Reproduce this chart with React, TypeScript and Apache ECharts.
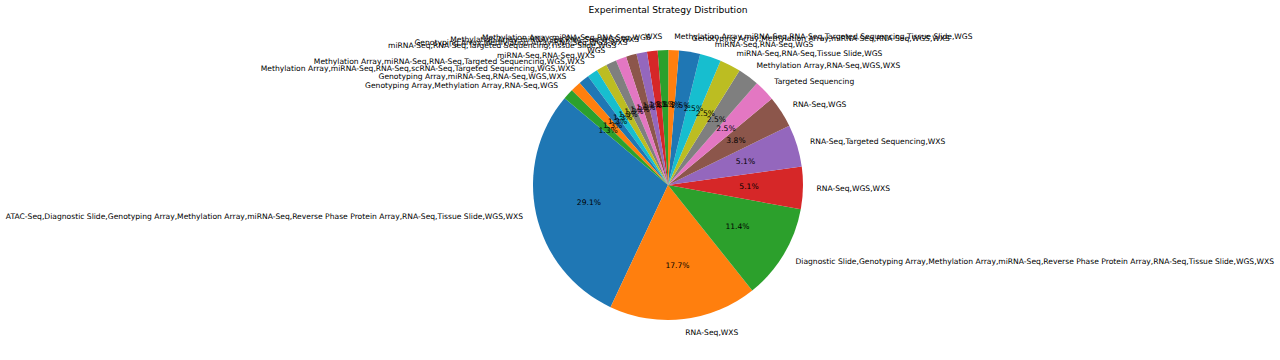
import React, { useEffect, useRef } from "react";
import * as echarts from "echarts";

const categories: string[] = [
  "ATAC-Seq,Diagnostic Slide,Genotyping Array,Methylation Array,miRNA-Seq,Reverse Phase Protein Array,RNA-Seq,Tissue Slide,WGS,WXS",
  "RNA-Seq,WXS",
  "Diagnostic Slide,Genotyping Array,Methylation Array,miRNA-Seq,Reverse Phase Protein Array,RNA-Seq,Tissue Slide,WGS,WXS",
  "RNA-Seq,WGS,WXS",
  "RNA-Seq,Targeted Sequencing,WXS",
  "RNA-Seq,WGS",
  "Targeted Sequencing",
  "Methylation Array,RNA-Seq,WGS,WXS",
  "miRNA-Seq,RNA-Seq,Tissue Slide,WGS",
  "miRNA-Seq,RNA-Seq,WGS",
  "Genotyping Array,Methylation Array,miRNA-Seq,RNA-Seq,WGS,WXS",
  "Methylation Array,miRNA-Seq,RNA-Seq,Targeted Sequencing,Tissue Slide,WGS",
  "WXS",
  "Methylation Array,miRNA-Seq,RNA-Seq,WGS",
  "Methylation Array,miRNA-Seq,RNA-Seq,WGS,WXS",
  "Genotyping Array,Methylation Array,RNA-Seq,WGS,WXS",
  "miRNA-Seq,RNA-Seq,Targeted Sequencing,Tissue Slide,WGS",
  "WGS",
  "miRNA-Seq,RNA-Seq,WXS",
  "Methylation Array,miRNA-Seq,RNA-Seq,Targeted Sequencing,WGS,WXS",
  "Methylation Array,miRNA-Seq,RNA-Seq,scRNA-Seq,Targeted Sequencing,WGS,WXS",
  "Genotyping Array,miRNA-Seq,RNA-Seq,WGS,WXS",
  "Genotyping Array,Methylation Array,RNA-Seq,WGS",
];

const counts: number[] = [23, 14, 9, 4, 4, 3, 2, 2, 2, 2, 2, 1, 1, 1, 1, 1, 1, 1, 1, 1, 1, 1, 1];

const palette: string[] = [
  "#1f77b4", "#ff7f0e", "#2ca02c", "#d62728", "#9467bd",
  "#8c564b", "#e377c2", "#7f7f7f", "#bcbd22", "#17becf",
];

const titleText = "Experimental Strategy Distribution";

export default function App() {
  const ref = useRef<HTMLDivElement>(null);
  useEffect(() => {
    if (!ref.current) return;
    const chart = echarts.init(ref.current, undefined, { renderer: "svg" });
    const total = counts.reduce((a, b) => a + b, 0);
    const data = categories.map((name, i) => ({ name, value: counts[i] }));
    const font = "DejaVu Sans";
    const cx = 668;
    const cy = 185;
    const R = 135;
    const fs = 7.6;
    chart.setOption({
      animation: false,
      color: palette,
      graphic: [
        {
          type: "text",
          x: cx,
          y: 10,
          style: {
            text: titleText,
            align: "center",
            verticalAlign: "middle",
            fontSize: 9.15,
            fontFamily: font,
            fill: "#000",
          },
        },
      ],
      series: [
        {
          type: "pie",
          center: [cx, cy],
          radius: [0, R],
          startAngle: 140,
          clockwise: false,
          avoidLabelOverlap: false,
          silent: true,
          data,
          itemStyle: { borderWidth: 0 },
          labelLayout: { hideOverlap: false },
          label: {
            show: true,
            position: "outside",
            fontSize: fs,
            fontFamily: font,
            color: "#000",
            distanceToLabelLine: 0,
            formatter: (p: any) => p.name,
          },
          labelLine: { show: false, length: R * 0.1, length2: 0 },
        },
        {
          type: "pie",
          center: [cx, cy],
          radius: [0, 2 * (R * 0.6 - 3)],
          startAngle: 140,
          clockwise: false,
          avoidLabelOverlap: false,
          silent: true,
          data,
          itemStyle: { color: "rgba(0,0,0,0)", borderWidth: 0 },
          labelLayout: { hideOverlap: false },
          label: {
            show: true,
            position: "inner",
            fontSize: fs,
            fontFamily: font,
            color: "#000",
            formatter: (p: any) => ((p.value / total) * 100).toFixed(1) + "%",
          },
          labelLine: { show: false },
        },
      ],
    });
    return () => chart.dispose();
  }, []);
  return (
    <div
      ref={ref}
      style={{ position: "absolute", left: 0, top: 0, width: 1280, height: 360 }}
    />
  );
}
